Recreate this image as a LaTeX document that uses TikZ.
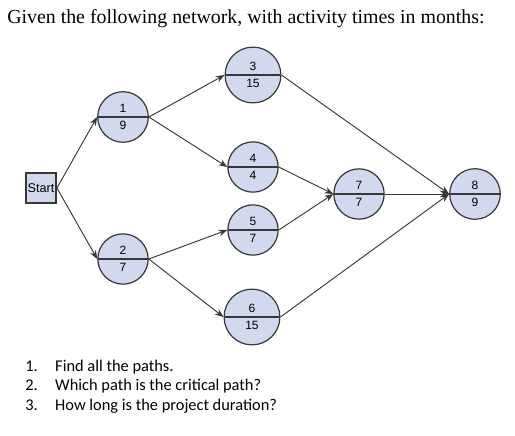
\documentclass[tikz,border=0pt]{standalone}
\usepackage{fontspec}
\setmainfont{Liberation Serif}
\newfontfamily\nodefont{Liberation Sans}
\newfontfamily\listfont{Carlito}
\usetikzlibrary{arrows.meta,shapes.multipart}
\definecolor{actfill}{RGB}{210,217,238}
\definecolor{actline}{RGB}{55,55,55}
\tikzset{
  act/.style={circle split,draw=actline,fill=actfill,line width=0.9pt,inner xsep=11.5pt,inner ysep=3pt,font=\nodefont\fontsize{9}{10}\selectfont},
  startbox/.style={rectangle,draw=actline,fill=actfill,line width=1.4pt,minimum size=22.5pt,inner sep=0pt,font=\nodefont\fontsize{9.5}{10}\selectfont},
  arr/.style={draw=actline,line width=0.7pt,-{Stealth[length=6.5pt,width=5pt]}},
  qline/.style={anchor=base west,inner sep=0pt,font=\listfont\fontsize{12.3}{14}\selectfont}
}

\begin{document}
\begin{tikzpicture}[x=0.75pt,y=-0.75pt]
\useasboundingbox (0,0) rectangle (515,436);
\node[anchor=base west,inner sep=0pt,font=\fontsize{14.9}{17}\selectfont] (title) at (7,23) {Given the following network, with activity times in months:};
\node[startbox] (start) at (41,188) {Start};
\node[act] (n1) at (123,117) {1 \nodepart{lower} 9};
\node[act] (n2) at (123,259) {2 \nodepart{lower} 7};
\node[act] (n3) at (253,75) {3 \nodepart{lower} 15};
\node[act] (n4) at (253,167) {4 \nodepart{lower} 4};
\node[act] (n5) at (253,230) {5 \nodepart{lower} 7};
\node[act] (n6) at (252,317) {6 \nodepart{lower} 15};
\node[act] (n7) at (359,194) {7 \nodepart{lower} 7};
\node[act] (n8) at (475,194) {8 \nodepart{lower} 9};
\foreach \u/\v in {start/n1,start/n2,n1/n3,n1/n4,n2/n5,n2/n6,n3/n8,n4/n7,n5/n7,n6/n8,n7/n8}{\draw[arr] (\u.east) -- (\v.west);}
\foreach \i/\txt in {1/Find all the paths.,2/Which path is the critical path?,3/How long is the project duration?}{
  \node[qline] (q\i) at (25,{351.5+19.5*\i}) {\makebox[22.5pt][l]{\i.}\txt};
}
\end{tikzpicture}
\end{document}
